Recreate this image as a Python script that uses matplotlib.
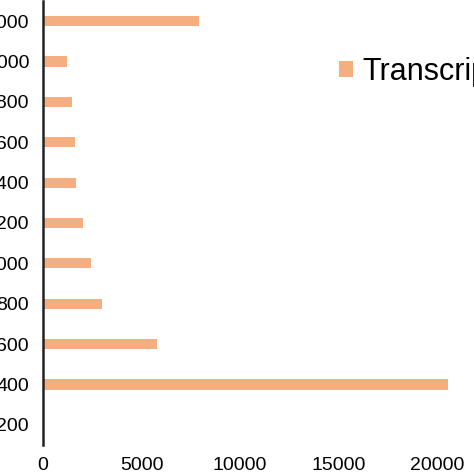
import matplotlib
matplotlib.use("Agg")
import matplotlib.pyplot as plt

categories = ["200", "400", "600", "800", "1000", "1200", "1400", "1600", "1800", "2000", "3000"]
transcripts = [0, 20550, 5800, 2990, 2450, 2020, 1680, 1630, 1460, 1210, 7930]
xticks = [0, 5000, 10000, 15000, 20000]

plt.rcParams['font.family'] = ['Liberation Sans', 'DejaVu Sans']

fig = plt.figure(figsize=(4.74, 4.74), dpi=100)
scale = (437 - 43) / 20000.0
xmax = 22000
ax = fig.add_axes([43/474, 29/474, xmax*scale/474, 444/474])

ypos = list(range(len(categories)))
ax.barh(ypos, transcripts, height=0.25, color='#F4AE80', label='Transcripts')
ax.set_yticks(ypos)
ax.set_yticklabels(categories, fontsize=14)
ax.set_xticks(xticks)
ax.set_xticklabels([str(v) for v in xticks], fontsize=14)
ax.set_xlim(0, xmax)
ax.set_ylim(-0.5, 10.5)
ax.tick_params(axis='both', length=0)
ax.tick_params(axis='y', pad=10)
ax.tick_params(axis='x', pad=9)
for s in ['top', 'right', 'bottom']:
    ax.spines[s].set_visible(False)
ax.spines['left'].set_linewidth(1.8)
ax.spines['left'].set_color('#222222')

leg = ax.legend(loc='center left', bbox_to_anchor=(339/474, 1 - 72/474), bbox_transform=fig.transFigure,
                frameon=False, fontsize=22, handlelength=0.45, handleheight=0.45, handletextpad=0.3,
                borderpad=0, borderaxespad=0)

fig.savefig('out.png', dpi=100)
